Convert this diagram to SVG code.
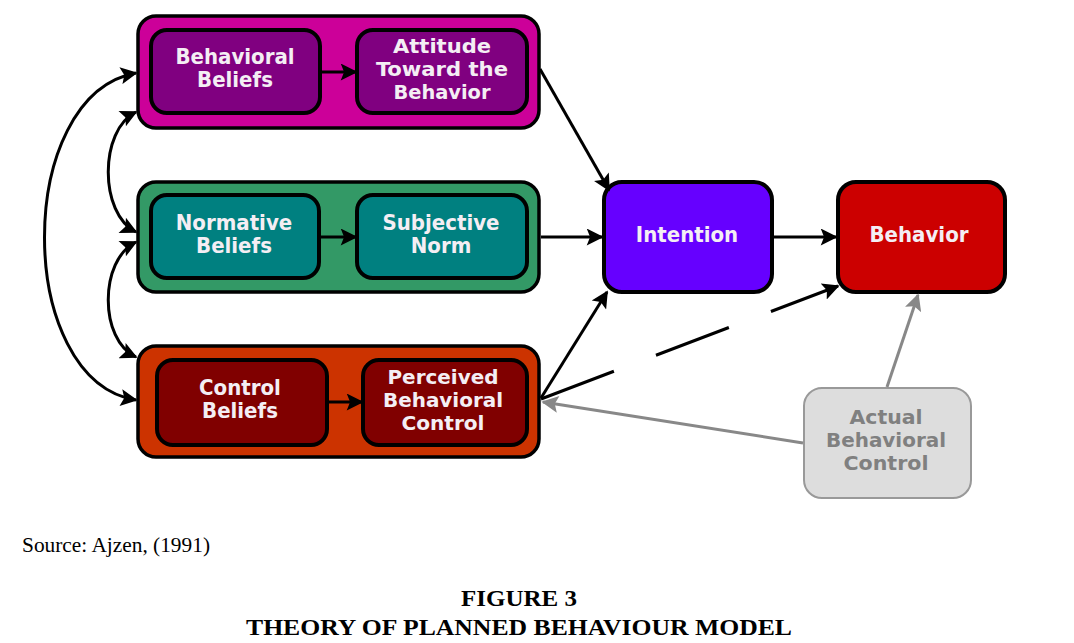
<svg xmlns="http://www.w3.org/2000/svg" width="1074" height="643" viewBox="0 0 1074 643">
<style>
.outer{stroke:#000;stroke-width:3.5}
.inner{stroke:#000;stroke-width:4}
.lbl{font-family:"DejaVu Sans Condensed","DejaVu Sans",sans-serif;font-weight:bold;font-size:22px;text-anchor:middle;fill:#F4EEF4}
.l3{font-size:19px}
.cap{font-family:"Liberation Serif","Times New Roman",serif;fill:#000}
.con{fill:none;stroke:#000;stroke-width:3}
.gcon{fill:none;stroke:#888;stroke-width:3}
</style>
<defs>
<marker id="ah" viewBox="0 0 10 10" refX="9" refY="5" markerWidth="20" markerHeight="17" markerUnits="userSpaceOnUse" orient="auto-start-reverse"><path d="M0,0 L10,5 L0,10 L2,5 z" fill="#000"/></marker>
<marker id="gah" viewBox="0 0 10 10" refX="9" refY="5" markerWidth="20" markerHeight="17" markerUnits="userSpaceOnUse" orient="auto-start-reverse"><path d="M0,0 L10,5 L0,10 L2,5 z" fill="#888"/></marker>
</defs>
<rect width="1074" height="643" fill="#fff"/>

<g id="attitude-group">
<rect class="outer" x="138" y="16" width="401" height="112" rx="18" fill="#CC0099"/>
</g>
<g id="behavioral-beliefs">
<rect class="inner" x="151" y="30" width="169" height="83" rx="16" fill="#800080"/>
<text class="lbl" x="235" y="64">Behavioral</text>
<text class="lbl" x="235" y="87">Beliefs</text>
</g>
<g id="attitude">
<rect class="inner" x="357" y="30" width="170" height="83" rx="16" fill="#800080"/>
<text class="lbl l3" x="442" y="53" textLength="98" lengthAdjust="spacingAndGlyphs">Attitude</text>
<text class="lbl l3" x="442" y="76" textLength="132" lengthAdjust="spacingAndGlyphs">Toward the</text>
<text class="lbl l3" x="442" y="99" textLength="97" lengthAdjust="spacingAndGlyphs">Behavior</text>
</g>

<g id="norm-group">
<rect class="outer" x="138" y="182" width="401" height="110" rx="18" fill="#339966"/>
</g>
<g id="normative-beliefs">
<rect class="inner" x="151" y="195" width="168" height="83" rx="16" fill="#008080"/>
<text class="lbl" x="234" y="230">Normative</text>
<text class="lbl" x="234" y="253">Beliefs</text>
</g>
<g id="subjective-norm">
<rect class="inner" x="357" y="195" width="170" height="83" rx="16" fill="#008080"/>
<text class="lbl" x="441" y="230">Subjective</text>
<text class="lbl" x="441" y="253">Norm</text>
</g>

<g id="control-group">
<rect class="outer" x="138" y="346" width="401" height="111" rx="18" fill="#CC3300"/>
</g>
<g id="control-beliefs">
<rect class="inner" x="157" y="360" width="170" height="85" rx="16" fill="#800000"/>
<text class="lbl" x="240" y="395">Control</text>
<text class="lbl" x="240" y="418">Beliefs</text>
</g>
<g id="perceived-control">
<rect class="inner" x="363" y="360" width="164" height="85" rx="16" fill="#800000"/>
<text class="lbl l3" x="443" y="384" textLength="111" lengthAdjust="spacingAndGlyphs">Perceived</text>
<text class="lbl l3" x="443" y="407" textLength="120" lengthAdjust="spacingAndGlyphs">Behavioral</text>
<text class="lbl l3" x="443" y="430" textLength="83" lengthAdjust="spacingAndGlyphs">Control</text>
</g>

<g id="intention">
<rect class="inner" x="604" y="182" width="168" height="110" rx="18" fill="#6600FF"/>
<text class="lbl" x="687" y="242">Intention</text>
</g>
<g id="behavior">
<rect class="inner" x="838" y="182" width="167" height="110" rx="18" fill="#CC0000"/>
<text class="lbl" x="919" y="242">Behavior</text>
</g>
<g id="actual-control">
<rect x="804" y="388" width="167" height="110" rx="18" fill="#DDDDDD" stroke="#999" stroke-width="2"/>
<text class="lbl l3" x="886" y="424" textLength="73" lengthAdjust="spacingAndGlyphs" style="fill:#808080">Actual</text>
<text class="lbl l3" x="886" y="447" textLength="120" lengthAdjust="spacingAndGlyphs" style="fill:#808080">Behavioral</text>
<text class="lbl l3" x="886" y="470" textLength="85" lengthAdjust="spacingAndGlyphs" style="fill:#808080">Control</text>
</g>

<g id="connectors">
<path class="con" d="M136 73 C14 95,14 380,136 400" marker-start="url(#ah)" marker-end="url(#ah)"/>
<path class="con" d="M136 112 C99 130,99 214,136 232" marker-start="url(#ah)" marker-end="url(#ah)"/>
<path class="con" d="M136 242 C99 260,99 340,136 357" marker-start="url(#ah)" marker-end="url(#ah)"/>
<line class="con" x1="322" y1="72" x2="356" y2="72" marker-end="url(#ah)"/>
<line class="con" x1="321" y1="237" x2="356" y2="237" marker-end="url(#ah)"/>
<line class="con" x1="329" y1="402" x2="362" y2="402" marker-end="url(#ah)"/>
<line class="con" x1="540" y1="69" x2="609" y2="190" marker-end="url(#ah)"/>
<line class="con" x1="541" y1="237" x2="602" y2="237" marker-end="url(#ah)"/>
<line class="con" x1="541" y1="398" x2="607" y2="292" marker-end="url(#ah)"/>
<line class="con" x1="774" y1="237" x2="836" y2="237" marker-end="url(#ah)"/>
<line class="con" x1="541" y1="399" x2="838" y2="286" stroke-dasharray="78 45" marker-end="url(#ah)"/>
<line class="gcon" x1="803" y1="443" x2="543" y2="402" marker-end="url(#gah)"/>
<line class="gcon" x1="887" y1="387" x2="918" y2="295" marker-end="url(#gah)"/>
</g>

<g id="caption">
<text class="cap" x="22" y="552" font-size="21" textLength="188" lengthAdjust="spacingAndGlyphs">Source: Ajzen, (1991)</text>
<text class="cap" x="519" y="606" font-size="24" font-weight="bold" text-anchor="middle" textLength="116" lengthAdjust="spacingAndGlyphs">FIGURE 3</text>
<text class="cap" x="519" y="635" font-size="24" font-weight="bold" text-anchor="middle" textLength="546" lengthAdjust="spacingAndGlyphs">THEORY OF PLANNED BEHAVIOUR MODEL</text>
</g>
</svg>
